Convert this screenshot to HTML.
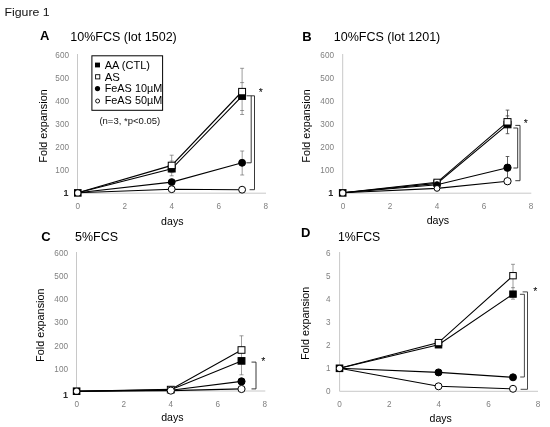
<!DOCTYPE html>
<html><head><meta charset="utf-8"><title>Figure 1</title>
<style>html,body{margin:0;padding:0;background:#fff}svg{display:block}</style></head><body>
<svg width="550" height="427" viewBox="0 0 550 427" font-family="Liberation Sans, Arial, sans-serif">
<rect width="550" height="427" fill="#fff"/>
<text x="4.5" y="16.3" font-size="11.7" fill="#111" text-anchor="start" textLength="45.2" lengthAdjust="spacingAndGlyphs" >Figure 1</text>
<text x="40" y="40.2" font-size="13" fill="#000" text-anchor="start" font-weight="bold" >A</text>
<text x="70.2" y="40.6" font-size="12.3" fill="#000" text-anchor="start" textLength="106.6" lengthAdjust="spacingAndGlyphs" >10%FCS (lot 1502)</text>
<line x1="77.5" y1="54" x2="77.5" y2="193.2" stroke="#c8c8c8" stroke-width="1"/>
<line x1="77.5" y1="193.2" x2="266" y2="193.2" stroke="#c8c8c8" stroke-width="1"/>
<text x="69" y="57.800000000000004" font-size="8.7" fill="#808080" text-anchor="end" textLength="13.649999999999999" lengthAdjust="spacingAndGlyphs" >600</text>
<text x="69" y="80.9" font-size="8.7" fill="#808080" text-anchor="end" textLength="13.649999999999999" lengthAdjust="spacingAndGlyphs" >500</text>
<text x="69" y="104.0" font-size="8.7" fill="#808080" text-anchor="end" textLength="13.649999999999999" lengthAdjust="spacingAndGlyphs" >400</text>
<text x="69" y="127.10000000000001" font-size="8.7" fill="#808080" text-anchor="end" textLength="13.649999999999999" lengthAdjust="spacingAndGlyphs" >300</text>
<text x="69" y="150.20000000000002" font-size="8.7" fill="#808080" text-anchor="end" textLength="13.649999999999999" lengthAdjust="spacingAndGlyphs" >200</text>
<text x="69" y="173.29999999999998" font-size="8.7" fill="#808080" text-anchor="end" textLength="13.649999999999999" lengthAdjust="spacingAndGlyphs" >100</text>
<text x="77.8" y="208.7" font-size="8.7" fill="#808080" text-anchor="middle" textLength="4.55" lengthAdjust="spacingAndGlyphs" >0</text>
<text x="124.8" y="208.7" font-size="8.7" fill="#808080" text-anchor="middle" textLength="4.55" lengthAdjust="spacingAndGlyphs" >2</text>
<text x="171.8" y="208.7" font-size="8.7" fill="#808080" text-anchor="middle" textLength="4.55" lengthAdjust="spacingAndGlyphs" >4</text>
<text x="218.8" y="208.7" font-size="8.7" fill="#808080" text-anchor="middle" textLength="4.55" lengthAdjust="spacingAndGlyphs" >6</text>
<text x="265.8" y="208.7" font-size="8.7" fill="#808080" text-anchor="middle" textLength="4.55" lengthAdjust="spacingAndGlyphs" >8</text>
<text x="68.5" y="195.8" font-size="9" fill="#2a2a2a" text-anchor="end" font-weight="bold" >1</text>
<text x="46.9" y="162.7" font-size="10.6" fill="#000" text-anchor="start" textLength="73.4" lengthAdjust="spacingAndGlyphs" transform="rotate(-90 46.9 162.7)" >Fold expansion</text>
<text x="161.1" y="224.5" font-size="10.5" fill="#000" text-anchor="start" textLength="22.4" lengthAdjust="spacingAndGlyphs" >days</text>
<rect x="91.9" y="55.8" width="70.7" height="54.5" fill="#fff" stroke="#000" stroke-width="1"/>
<text x="104.7" y="68.8" font-size="10.6" fill="#000" text-anchor="start" textLength="45.3" lengthAdjust="spacingAndGlyphs" >AA (CTL)</text>
<text x="104.7" y="80.6" font-size="10.6" fill="#000" text-anchor="start" textLength="15.2" lengthAdjust="spacingAndGlyphs" >AS</text>
<text x="104.7" y="92.4" font-size="10.6" fill="#000" text-anchor="start" textLength="57.6" lengthAdjust="spacingAndGlyphs" >FeAS 10µM</text>
<text x="104.7" y="104.2" font-size="10.6" fill="#000" text-anchor="start" textLength="57.6" lengthAdjust="spacingAndGlyphs" >FeAS 50µM</text>
<rect x="95.0" y="62.6" width="5.0" height="4.8" fill="#000"/>
<rect x="95.6" y="74.7" width="4.2" height="4.2" fill="#fff" stroke="#000" stroke-width="0.9"/>
<circle cx="97.5" cy="88.6" r="2.6" fill="#000"/>
<circle cx="97.6" cy="101" r="2" fill="#fff" stroke="#000" stroke-width="0.9"/>
<text x="99.4" y="123.6" font-size="9.6" fill="#111" text-anchor="start" textLength="60.8" lengthAdjust="spacingAndGlyphs" >(n=3, *p&lt;0.05)</text>
<line x1="242.1" y1="68.3" x2="242.1" y2="114.5" stroke="#5a5a5a" stroke-width="0.6"/>
<line x1="240.1" y1="68.3" x2="244.1" y2="68.3" stroke="#5a5a5a" stroke-width="0.6"/>
<line x1="240.1" y1="82.6" x2="244.1" y2="82.6" stroke="#5a5a5a" stroke-width="0.6"/>
<line x1="240.1" y1="110.5" x2="244.1" y2="110.5" stroke="#5a5a5a" stroke-width="0.6"/>
<line x1="240.1" y1="114.5" x2="244.1" y2="114.5" stroke="#5a5a5a" stroke-width="0.6"/>
<line x1="171.7" y1="155.2" x2="171.7" y2="175.8" stroke="#5a5a5a" stroke-width="0.6"/>
<line x1="169.7" y1="155.2" x2="173.7" y2="155.2" stroke="#5a5a5a" stroke-width="0.6"/>
<line x1="169.7" y1="161" x2="173.7" y2="161" stroke="#5a5a5a" stroke-width="0.6"/>
<line x1="169.7" y1="172.6" x2="173.7" y2="172.6" stroke="#5a5a5a" stroke-width="0.6"/>
<line x1="169.7" y1="175.8" x2="173.7" y2="175.8" stroke="#5a5a5a" stroke-width="0.6"/>
<line x1="242.2" y1="151" x2="242.2" y2="175" stroke="#5a5a5a" stroke-width="0.6"/>
<line x1="240.2" y1="151" x2="244.2" y2="151" stroke="#5a5a5a" stroke-width="0.6"/>
<line x1="240.2" y1="175" x2="244.2" y2="175" stroke="#5a5a5a" stroke-width="0.6"/>
<polyline fill="none" stroke="#000" stroke-width="1.1" points="77.8,192.7 171.7,189.2 242.1,189.7"/>
<polyline fill="none" stroke="#000" stroke-width="1.1" points="77.8,192.7 171.7,182.1 242.1,162.8"/>
<polyline fill="none" stroke="#000" stroke-width="1.1" points="77.8,192.7 171.7,168.8 242.1,96.2"/>
<polyline fill="none" stroke="#000" stroke-width="1.1" points="77.8,192.7 171.7,165.4 242.1,91.5"/>
<polyline fill="none" stroke="#222" stroke-width="0.9" points="246.5,95.8 254.5,95.8 254.5,189.7 249.6,189.7"/>
<polyline fill="none" stroke="#222" stroke-width="0.9" points="251.2,95.8 251.2,162.8 246.4,162.8"/>
<rect x="168.25" y="165.60" width="6.9" height="6.4" fill="#000" stroke="#000" stroke-width="1"/>
<rect x="238.65" y="93.00" width="6.9" height="6.4" fill="#000" stroke="#000" stroke-width="1"/>
<rect x="168.25" y="162.20" width="6.9" height="6.4" fill="#fff" stroke="#000" stroke-width="1"/>
<rect x="238.65" y="88.40" width="6.9" height="6.4" fill="#fff" stroke="#000" stroke-width="1"/>
<circle cx="171.7" cy="182.1" r="3.45" fill="#000" stroke="#000" stroke-width="1"/>
<circle cx="242.1" cy="162.8" r="3.45" fill="#000" stroke="#000" stroke-width="1"/>
<circle cx="171.7" cy="189.2" r="3.45" fill="#fff" stroke="#000" stroke-width="1"/>
<circle cx="242.1" cy="189.7" r="3.45" fill="#fff" stroke="#000" stroke-width="1"/>
<rect x="74.00" y="189.10" width="7.6" height="7.6" fill="#000"/>
<circle cx="77.8" cy="192.9" r="2.65" fill="#fff"/>
<text x="260.9" y="95.6" font-size="10.5" fill="#000" text-anchor="middle" >*</text>
<text x="302.3" y="41.2" font-size="13" fill="#000" text-anchor="start" font-weight="bold" >B</text>
<text x="333.7" y="40.6" font-size="12.3" fill="#000" text-anchor="start" textLength="106.6" lengthAdjust="spacingAndGlyphs" >10%FCS (lot 1201)</text>
<line x1="342.7" y1="54" x2="342.7" y2="193.2" stroke="#c8c8c8" stroke-width="1"/>
<line x1="342.7" y1="193.2" x2="531.3" y2="193.2" stroke="#c8c8c8" stroke-width="1"/>
<text x="334" y="57.800000000000004" font-size="8.7" fill="#808080" text-anchor="end" textLength="13.649999999999999" lengthAdjust="spacingAndGlyphs" >600</text>
<text x="334" y="80.9" font-size="8.7" fill="#808080" text-anchor="end" textLength="13.649999999999999" lengthAdjust="spacingAndGlyphs" >500</text>
<text x="334" y="104.0" font-size="8.7" fill="#808080" text-anchor="end" textLength="13.649999999999999" lengthAdjust="spacingAndGlyphs" >400</text>
<text x="334" y="127.10000000000001" font-size="8.7" fill="#808080" text-anchor="end" textLength="13.649999999999999" lengthAdjust="spacingAndGlyphs" >300</text>
<text x="334" y="150.20000000000002" font-size="8.7" fill="#808080" text-anchor="end" textLength="13.649999999999999" lengthAdjust="spacingAndGlyphs" >200</text>
<text x="334" y="173.29999999999998" font-size="8.7" fill="#808080" text-anchor="end" textLength="13.649999999999999" lengthAdjust="spacingAndGlyphs" >100</text>
<text x="343.0" y="208.7" font-size="8.7" fill="#808080" text-anchor="middle" textLength="4.55" lengthAdjust="spacingAndGlyphs" >0</text>
<text x="390.0" y="208.7" font-size="8.7" fill="#808080" text-anchor="middle" textLength="4.55" lengthAdjust="spacingAndGlyphs" >2</text>
<text x="437.0" y="208.7" font-size="8.7" fill="#808080" text-anchor="middle" textLength="4.55" lengthAdjust="spacingAndGlyphs" >4</text>
<text x="484.0" y="208.7" font-size="8.7" fill="#808080" text-anchor="middle" textLength="4.55" lengthAdjust="spacingAndGlyphs" >6</text>
<text x="531.0" y="208.7" font-size="8.7" fill="#808080" text-anchor="middle" textLength="4.55" lengthAdjust="spacingAndGlyphs" >8</text>
<text x="333.3" y="195.6" font-size="9" fill="#2a2a2a" text-anchor="end" font-weight="bold" >1</text>
<text x="310.1" y="162.7" font-size="10.6" fill="#000" text-anchor="start" textLength="73.4" lengthAdjust="spacingAndGlyphs" transform="rotate(-90 310.1 162.7)" >Fold expansion</text>
<text x="426.7" y="223.8" font-size="10.5" fill="#000" text-anchor="start" textLength="22.5" lengthAdjust="spacingAndGlyphs" >days</text>
<line x1="507.5" y1="110.1" x2="507.5" y2="133.7" stroke="#3a3a3a" stroke-width="0.8"/>
<line x1="505.7" y1="110.1" x2="509.3" y2="110.1" stroke="#3a3a3a" stroke-width="0.8"/>
<line x1="505.7" y1="115.9" x2="509.3" y2="115.9" stroke="#3a3a3a" stroke-width="0.8"/>
<line x1="505.7" y1="133.7" x2="509.3" y2="133.7" stroke="#3a3a3a" stroke-width="0.8"/>
<line x1="507.5" y1="156.5" x2="507.5" y2="178.5" stroke="#3a3a3a" stroke-width="0.8"/>
<line x1="505.7" y1="156.5" x2="509.3" y2="156.5" stroke="#3a3a3a" stroke-width="0.8"/>
<line x1="505.7" y1="178.5" x2="509.3" y2="178.5" stroke="#3a3a3a" stroke-width="0.8"/>
<polyline fill="none" stroke="#000" stroke-width="1.1" points="342.7,192.7 437.0,188.4 507.5,181.2"/>
<polyline fill="none" stroke="#000" stroke-width="1.1" points="342.7,192.7 437.0,184.7 507.5,167.7"/>
<polyline fill="none" stroke="#000" stroke-width="1.1" points="342.7,192.7 437.0,183.4 507.5,124.6"/>
<polyline fill="none" stroke="#000" stroke-width="1.1" points="342.7,192.7 437.0,182.3 507.5,121.8"/>
<polyline fill="none" stroke="#222" stroke-width="0.9" points="515.3,125.4 520.0,125.4 520.0,180.7 515.3,180.7"/>
<polyline fill="none" stroke="#222" stroke-width="0.9" points="513.3,128.0 517.7,128.0 517.7,168.0 513.4,168.0"/>
<rect x="433.90" y="180.30" width="6.2" height="6.2" fill="#000" stroke="#000" stroke-width="1"/>
<rect x="504.00" y="121.40" width="7.0" height="6.4" fill="#000" stroke="#000" stroke-width="1"/>
<rect x="433.90" y="179.20" width="6.2" height="6.2" fill="#fff" stroke="#000" stroke-width="1"/>
<rect x="504.00" y="118.60" width="7.0" height="6.4" fill="#fff" stroke="#000" stroke-width="1"/>
<circle cx="437.0" cy="184.7" r="3.0" fill="#000" stroke="#000" stroke-width="1"/>
<circle cx="507.5" cy="167.7" r="3.65" fill="#000" stroke="#000" stroke-width="1"/>
<circle cx="437.0" cy="188.4" r="2.9" fill="#fff" stroke="#000" stroke-width="1"/>
<circle cx="507.5" cy="181.2" r="3.65" fill="#fff" stroke="#000" stroke-width="1"/>
<rect x="338.90" y="189.10" width="7.6" height="7.6" fill="#000"/>
<circle cx="342.7" cy="192.9" r="2.65" fill="#fff"/>
<text x="525.7" y="126.5" font-size="10.5" fill="#000" text-anchor="middle" >*</text>
<text x="41.2" y="241.4" font-size="13" fill="#000" text-anchor="start" font-weight="bold" >C</text>
<text x="75" y="241" font-size="12.3" fill="#000" text-anchor="start" textLength="43" lengthAdjust="spacingAndGlyphs" >5%FCS</text>
<line x1="76.5" y1="252" x2="76.5" y2="391" stroke="#c8c8c8" stroke-width="1"/>
<line x1="76.5" y1="391" x2="265.3" y2="391" stroke="#c8c8c8" stroke-width="1"/>
<text x="68" y="256.1" font-size="8.7" fill="#808080" text-anchor="end" textLength="13.649999999999999" lengthAdjust="spacingAndGlyphs" >600</text>
<text x="68" y="279.20000000000005" font-size="8.7" fill="#808080" text-anchor="end" textLength="13.649999999999999" lengthAdjust="spacingAndGlyphs" >500</text>
<text x="68" y="302.3" font-size="8.7" fill="#808080" text-anchor="end" textLength="13.649999999999999" lengthAdjust="spacingAndGlyphs" >400</text>
<text x="68" y="325.40000000000003" font-size="8.7" fill="#808080" text-anchor="end" textLength="13.649999999999999" lengthAdjust="spacingAndGlyphs" >300</text>
<text x="68" y="348.5" font-size="8.7" fill="#808080" text-anchor="end" textLength="13.649999999999999" lengthAdjust="spacingAndGlyphs" >200</text>
<text x="68" y="371.6" font-size="8.7" fill="#808080" text-anchor="end" textLength="13.649999999999999" lengthAdjust="spacingAndGlyphs" >100</text>
<text x="76.7" y="406.5" font-size="8.7" fill="#808080" text-anchor="middle" textLength="4.55" lengthAdjust="spacingAndGlyphs" >0</text>
<text x="123.7" y="406.5" font-size="8.7" fill="#808080" text-anchor="middle" textLength="4.55" lengthAdjust="spacingAndGlyphs" >2</text>
<text x="170.7" y="406.5" font-size="8.7" fill="#808080" text-anchor="middle" textLength="4.55" lengthAdjust="spacingAndGlyphs" >4</text>
<text x="217.7" y="406.5" font-size="8.7" fill="#808080" text-anchor="middle" textLength="4.55" lengthAdjust="spacingAndGlyphs" >6</text>
<text x="264.7" y="406.5" font-size="8.7" fill="#808080" text-anchor="middle" textLength="4.55" lengthAdjust="spacingAndGlyphs" >8</text>
<text x="68.0" y="397.8" font-size="9" fill="#2a2a2a" text-anchor="end" font-weight="bold" >1</text>
<text x="44.3" y="361.9" font-size="10.6" fill="#000" text-anchor="start" textLength="73.4" lengthAdjust="spacingAndGlyphs" transform="rotate(-90 44.3 361.9)" >Fold expansion</text>
<text x="161.2" y="421.4" font-size="10.5" fill="#000" text-anchor="start" textLength="22.4" lengthAdjust="spacingAndGlyphs" >days</text>
<line x1="241.5" y1="335.8" x2="241.5" y2="374.8" stroke="#5a5a5a" stroke-width="0.6"/>
<line x1="239.5" y1="335.8" x2="243.5" y2="335.8" stroke="#5a5a5a" stroke-width="0.6"/>
<line x1="239.5" y1="374.8" x2="243.5" y2="374.8" stroke="#5a5a5a" stroke-width="0.6"/>
<polyline fill="none" stroke="#000" stroke-width="1.1" points="76.6,391.2 170.8,390.6 241.5,388.9"/>
<polyline fill="none" stroke="#000" stroke-width="1.1" points="76.6,391.2 170.8,390.2 241.5,381.4"/>
<polyline fill="none" stroke="#000" stroke-width="1.1" points="76.6,391.2 170.8,389.8 241.5,360.9"/>
<polyline fill="none" stroke="#000" stroke-width="1.1" points="76.6,391.2 170.8,389.4 241.5,350"/>
<polyline fill="none" stroke="#222" stroke-width="0.9" points="251.5,362.1 256,362.1 256,388.9 251.5,388.9"/>
<rect x="167.35" y="386.30" width="6.9" height="6.6" fill="#fff" stroke="#000" stroke-width="1"/>
<rect x="238.05" y="357.60" width="6.9" height="6.6" fill="#000" stroke="#000" stroke-width="1"/>
<rect x="238.05" y="346.70" width="6.9" height="6.6" fill="#fff" stroke="#000" stroke-width="1"/>
<circle cx="241.5" cy="381.4" r="3.6" fill="#000" stroke="#000" stroke-width="1"/>
<circle cx="241.5" cy="389.0" r="3.6" fill="#fff" stroke="#000" stroke-width="1"/>
<circle cx="170.8" cy="390.6" r="3.6" fill="#fff" stroke="#000" stroke-width="1"/>
<rect x="72.80" y="387.40" width="7.6" height="7.6" fill="#000"/>
<circle cx="76.6" cy="391.2" r="2.65" fill="#fff"/>
<text x="263.3" y="365.1" font-size="10.5" fill="#000" text-anchor="middle" >*</text>
<text x="301" y="237.2" font-size="13" fill="#000" text-anchor="start" font-weight="bold" >D</text>
<text x="338" y="240.8" font-size="12.3" fill="#000" text-anchor="start" textLength="42.3" lengthAdjust="spacingAndGlyphs" >1%FCS</text>
<line x1="339.6" y1="252" x2="339.6" y2="391.3" stroke="#c8c8c8" stroke-width="1"/>
<line x1="339.6" y1="391.3" x2="538" y2="391.3" stroke="#c8c8c8" stroke-width="1"/>
<text x="330.5" y="255.79999999999998" font-size="8.7" fill="#808080" text-anchor="end" textLength="4.55" lengthAdjust="spacingAndGlyphs" >6</text>
<text x="330.5" y="278.90000000000003" font-size="8.7" fill="#808080" text-anchor="end" textLength="4.55" lengthAdjust="spacingAndGlyphs" >5</text>
<text x="330.5" y="302.0" font-size="8.7" fill="#808080" text-anchor="end" textLength="4.55" lengthAdjust="spacingAndGlyphs" >4</text>
<text x="330.5" y="325.1" font-size="8.7" fill="#808080" text-anchor="end" textLength="4.55" lengthAdjust="spacingAndGlyphs" >3</text>
<text x="330.5" y="348.20000000000005" font-size="8.7" fill="#808080" text-anchor="end" textLength="4.55" lengthAdjust="spacingAndGlyphs" >2</text>
<text x="330.5" y="371.3" font-size="8.7" fill="#808080" text-anchor="end" textLength="4.55" lengthAdjust="spacingAndGlyphs" >1</text>
<text x="330.5" y="394.40000000000003" font-size="8.7" fill="#808080" text-anchor="end" textLength="4.55" lengthAdjust="spacingAndGlyphs" >0</text>
<text x="339.6" y="406.5" font-size="8.7" fill="#808080" text-anchor="middle" textLength="4.55" lengthAdjust="spacingAndGlyphs" >0</text>
<text x="389.20000000000005" y="406.5" font-size="8.7" fill="#808080" text-anchor="middle" textLength="4.55" lengthAdjust="spacingAndGlyphs" >2</text>
<text x="438.8" y="406.5" font-size="8.7" fill="#808080" text-anchor="middle" textLength="4.55" lengthAdjust="spacingAndGlyphs" >4</text>
<text x="488.40000000000003" y="406.5" font-size="8.7" fill="#808080" text-anchor="middle" textLength="4.55" lengthAdjust="spacingAndGlyphs" >6</text>
<text x="538.0" y="406.5" font-size="8.7" fill="#808080" text-anchor="middle" textLength="4.55" lengthAdjust="spacingAndGlyphs" >8</text>
<text x="309.3" y="360.1" font-size="10.6" fill="#000" text-anchor="start" textLength="73.4" lengthAdjust="spacingAndGlyphs" transform="rotate(-90 309.3 360.1)" >Fold expansion</text>
<text x="429.6" y="421.5" font-size="10.5" fill="#000" text-anchor="start" textLength="22.3" lengthAdjust="spacingAndGlyphs" >days</text>
<line x1="513" y1="264.3" x2="513" y2="299.2" stroke="#5a5a5a" stroke-width="0.6"/>
<line x1="511" y1="264.3" x2="515" y2="264.3" stroke="#5a5a5a" stroke-width="0.6"/>
<line x1="511" y1="287.7" x2="515" y2="287.7" stroke="#5a5a5a" stroke-width="0.6"/>
<line x1="511" y1="299.2" x2="515" y2="299.2" stroke="#5a5a5a" stroke-width="0.6"/>
<polyline fill="none" stroke="#000" stroke-width="1.1" points="339.5,368.3 438.5,386.3 513,388.8"/>
<polyline fill="none" stroke="#000" stroke-width="1.1" points="339.5,368.3 438.5,372.4 513,377.3"/>
<polyline fill="none" stroke="#000" stroke-width="1.1" points="339.5,368.3 438.5,344.8 513,294.1"/>
<polyline fill="none" stroke="#000" stroke-width="1.1" points="339.5,368.3 438.5,342.6 513,275.7"/>
<polyline fill="none" stroke="#333" stroke-width="0.9" points="522.6,291.9 527.5,291.9 527.5,389.3 520.6,389.3"/>
<polyline fill="none" stroke="#333" stroke-width="0.9" points="519.9,294.3 524.4,294.3 524.4,377 520.2,377"/>
<rect x="435.25" y="341.65" width="6.5" height="6.3" fill="#000" stroke="#000" stroke-width="1"/>
<rect x="509.75" y="290.95" width="6.5" height="6.3" fill="#000" stroke="#000" stroke-width="1"/>
<rect x="435.25" y="339.45" width="6.5" height="6.3" fill="#fff" stroke="#000" stroke-width="1"/>
<rect x="509.75" y="272.55" width="6.5" height="6.3" fill="#fff" stroke="#000" stroke-width="1"/>
<circle cx="438.5" cy="372.4" r="3.5" fill="#000" stroke="#000" stroke-width="1"/>
<circle cx="513" cy="377.3" r="3.5" fill="#000" stroke="#000" stroke-width="1"/>
<circle cx="438.5" cy="386.3" r="3.5" fill="#fff" stroke="#000" stroke-width="1"/>
<circle cx="513" cy="388.8" r="3.5" fill="#fff" stroke="#000" stroke-width="1"/>
<rect x="335.70" y="364.50" width="7.6" height="7.6" fill="#000"/>
<circle cx="339.5" cy="368.3" r="2.65" fill="#fff"/>
<text x="535.2" y="295.1" font-size="10.5" fill="#000" text-anchor="middle" >*</text>
</svg></body></html>
